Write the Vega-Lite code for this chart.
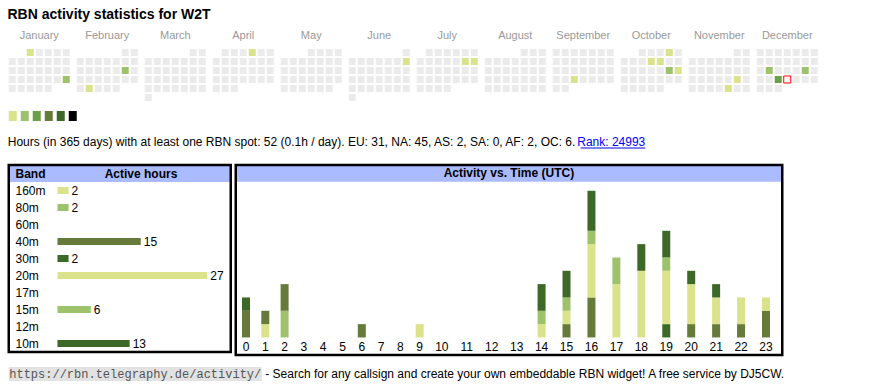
{
"$schema": "https://vega.github.io/schema/vega-lite/v6.json",
"background": "#ffffff",
"padding": {"left": 6.75, "top": 8, "right": 4, "bottom": 4},
"title": {"text": "RBN activity statistics for W2T", "anchor": "start", "fontSize": 14, "fontWeight": "bold", "font": "Liberation Sans", "color": "#000000", "offset": 8},
"config": {
  "view": {"stroke": null},
  "font": "Liberation Sans",
  "style": {"cell": {"strokeForeground": true}}
},
"resolve": {"scale": {"color": "independent", "fill": "independent"}},
"spacing": 10,
"datasets": {
"cal": [
{"m":1,"w":0,"d":2,"v":1},{"m":1,"w":0,"d":3,"v":0},{"m":1,"w":0,"d":4,"v":0},{"m":1,"w":0,"d":5,"v":0},{"m":1,"w":0,"d":6,"v":0},
{"m":1,"w":1,"d":0,"v":0},{"m":1,"w":1,"d":1,"v":0},{"m":1,"w":1,"d":2,"v":0},{"m":1,"w":1,"d":3,"v":0},{"m":1,"w":1,"d":4,"v":0},{"m":1,"w":1,"d":5,"v":0},{"m":1,"w":1,"d":6,"v":0},
{"m":1,"w":2,"d":0,"v":0},{"m":1,"w":2,"d":1,"v":0},{"m":1,"w":2,"d":2,"v":0},{"m":1,"w":2,"d":3,"v":0},{"m":1,"w":2,"d":4,"v":0},{"m":1,"w":2,"d":5,"v":0},{"m":1,"w":2,"d":6,"v":0},
{"m":1,"w":3,"d":0,"v":0},{"m":1,"w":3,"d":1,"v":0},{"m":1,"w":3,"d":2,"v":0},{"m":1,"w":3,"d":3,"v":0},{"m":1,"w":3,"d":4,"v":0},{"m":1,"w":3,"d":5,"v":0},{"m":1,"w":3,"d":6,"v":2},
{"m":1,"w":4,"d":0,"v":0},{"m":1,"w":4,"d":1,"v":0},{"m":1,"w":4,"d":2,"v":0},{"m":1,"w":4,"d":3,"v":0},{"m":1,"w":4,"d":4,"v":0},
{"m":2,"w":0,"d":5,"v":0},{"m":2,"w":0,"d":6,"v":0},
{"m":2,"w":1,"d":0,"v":0},{"m":2,"w":1,"d":1,"v":0},{"m":2,"w":1,"d":2,"v":0},{"m":2,"w":1,"d":3,"v":0},{"m":2,"w":1,"d":4,"v":0},{"m":2,"w":1,"d":5,"v":0},{"m":2,"w":1,"d":6,"v":0},
{"m":2,"w":2,"d":0,"v":0},{"m":2,"w":2,"d":1,"v":0},{"m":2,"w":2,"d":2,"v":0},{"m":2,"w":2,"d":3,"v":0},{"m":2,"w":2,"d":4,"v":0},{"m":2,"w":2,"d":5,"v":2},{"m":2,"w":2,"d":6,"v":0},
{"m":2,"w":3,"d":0,"v":0},{"m":2,"w":3,"d":1,"v":0},{"m":2,"w":3,"d":2,"v":0},{"m":2,"w":3,"d":3,"v":0},{"m":2,"w":3,"d":4,"v":0},{"m":2,"w":3,"d":5,"v":0},{"m":2,"w":3,"d":6,"v":0},
{"m":2,"w":4,"d":0,"v":0},{"m":2,"w":4,"d":1,"v":1},{"m":2,"w":4,"d":2,"v":0},{"m":2,"w":4,"d":3,"v":0},{"m":2,"w":4,"d":4,"v":0},
{"m":3,"w":0,"d":5,"v":0},{"m":3,"w":0,"d":6,"v":0},
{"m":3,"w":1,"d":0,"v":0},{"m":3,"w":1,"d":1,"v":0},{"m":3,"w":1,"d":2,"v":0},{"m":3,"w":1,"d":3,"v":0},{"m":3,"w":1,"d":4,"v":0},{"m":3,"w":1,"d":5,"v":0},{"m":3,"w":1,"d":6,"v":0},
{"m":3,"w":2,"d":0,"v":0},{"m":3,"w":2,"d":1,"v":0},{"m":3,"w":2,"d":2,"v":0},{"m":3,"w":2,"d":3,"v":0},{"m":3,"w":2,"d":4,"v":0},{"m":3,"w":2,"d":5,"v":0},{"m":3,"w":2,"d":6,"v":0},
{"m":3,"w":3,"d":0,"v":0},{"m":3,"w":3,"d":1,"v":0},{"m":3,"w":3,"d":2,"v":0},{"m":3,"w":3,"d":3,"v":0},{"m":3,"w":3,"d":4,"v":0},{"m":3,"w":3,"d":5,"v":0},{"m":3,"w":3,"d":6,"v":0},
{"m":3,"w":4,"d":0,"v":0},{"m":3,"w":4,"d":1,"v":0},{"m":3,"w":4,"d":2,"v":0},{"m":3,"w":4,"d":3,"v":0},{"m":3,"w":4,"d":4,"v":0},{"m":3,"w":4,"d":5,"v":0},{"m":3,"w":4,"d":6,"v":0},
{"m":3,"w":5,"d":0,"v":0},
{"m":4,"w":0,"d":1,"v":0},{"m":4,"w":0,"d":2,"v":0},{"m":4,"w":0,"d":3,"v":0},{"m":4,"w":0,"d":4,"v":1},{"m":4,"w":0,"d":5,"v":0},{"m":4,"w":0,"d":6,"v":0},
{"m":4,"w":1,"d":0,"v":0},{"m":4,"w":1,"d":1,"v":0},{"m":4,"w":1,"d":2,"v":0},{"m":4,"w":1,"d":3,"v":0},{"m":4,"w":1,"d":4,"v":0},{"m":4,"w":1,"d":5,"v":0},{"m":4,"w":1,"d":6,"v":0},
{"m":4,"w":2,"d":0,"v":0},{"m":4,"w":2,"d":1,"v":0},{"m":4,"w":2,"d":2,"v":0},{"m":4,"w":2,"d":3,"v":0},{"m":4,"w":2,"d":4,"v":0},{"m":4,"w":2,"d":5,"v":0},{"m":4,"w":2,"d":6,"v":0},
{"m":4,"w":3,"d":0,"v":0},{"m":4,"w":3,"d":1,"v":0},{"m":4,"w":3,"d":2,"v":0},{"m":4,"w":3,"d":3,"v":0},{"m":4,"w":3,"d":4,"v":0},{"m":4,"w":3,"d":5,"v":0},{"m":4,"w":3,"d":6,"v":0},
{"m":4,"w":4,"d":0,"v":0},{"m":4,"w":4,"d":1,"v":0},{"m":4,"w":4,"d":2,"v":0},
{"m":5,"w":0,"d":3,"v":0},{"m":5,"w":0,"d":4,"v":0},{"m":5,"w":0,"d":5,"v":0},{"m":5,"w":0,"d":6,"v":0},
{"m":5,"w":1,"d":0,"v":0},{"m":5,"w":1,"d":1,"v":0},{"m":5,"w":1,"d":2,"v":0},{"m":5,"w":1,"d":3,"v":0},{"m":5,"w":1,"d":4,"v":0},{"m":5,"w":1,"d":5,"v":0},{"m":5,"w":1,"d":6,"v":0},
{"m":5,"w":2,"d":0,"v":0},{"m":5,"w":2,"d":1,"v":0},{"m":5,"w":2,"d":2,"v":0},{"m":5,"w":2,"d":3,"v":0},{"m":5,"w":2,"d":4,"v":0},{"m":5,"w":2,"d":5,"v":0},{"m":5,"w":2,"d":6,"v":0},
{"m":5,"w":3,"d":0,"v":0},{"m":5,"w":3,"d":1,"v":0},{"m":5,"w":3,"d":2,"v":0},{"m":5,"w":3,"d":3,"v":0},{"m":5,"w":3,"d":4,"v":0},{"m":5,"w":3,"d":5,"v":0},{"m":5,"w":3,"d":6,"v":0},
{"m":5,"w":4,"d":0,"v":0},{"m":5,"w":4,"d":1,"v":0},{"m":5,"w":4,"d":2,"v":0},{"m":5,"w":4,"d":3,"v":0},{"m":5,"w":4,"d":4,"v":0},{"m":5,"w":4,"d":5,"v":0},
{"m":6,"w":0,"d":6,"v":0},
{"m":6,"w":1,"d":0,"v":0},{"m":6,"w":1,"d":1,"v":0},{"m":6,"w":1,"d":2,"v":0},{"m":6,"w":1,"d":3,"v":0},{"m":6,"w":1,"d":4,"v":0},{"m":6,"w":1,"d":5,"v":0},{"m":6,"w":1,"d":6,"v":1},
{"m":6,"w":2,"d":0,"v":0},{"m":6,"w":2,"d":1,"v":0},{"m":6,"w":2,"d":2,"v":0},{"m":6,"w":2,"d":3,"v":0},{"m":6,"w":2,"d":4,"v":0},{"m":6,"w":2,"d":5,"v":0},{"m":6,"w":2,"d":6,"v":0},
{"m":6,"w":3,"d":0,"v":0},{"m":6,"w":3,"d":1,"v":0},{"m":6,"w":3,"d":2,"v":0},{"m":6,"w":3,"d":3,"v":0},{"m":6,"w":3,"d":4,"v":0},{"m":6,"w":3,"d":5,"v":0},{"m":6,"w":3,"d":6,"v":0},
{"m":6,"w":4,"d":0,"v":0},{"m":6,"w":4,"d":1,"v":0},{"m":6,"w":4,"d":2,"v":0},{"m":6,"w":4,"d":3,"v":0},{"m":6,"w":4,"d":4,"v":0},{"m":6,"w":4,"d":5,"v":0},{"m":6,"w":4,"d":6,"v":0},
{"m":6,"w":5,"d":0,"v":0},
{"m":7,"w":0,"d":1,"v":0},{"m":7,"w":0,"d":2,"v":0},{"m":7,"w":0,"d":3,"v":0},{"m":7,"w":0,"d":4,"v":0},{"m":7,"w":0,"d":5,"v":0},{"m":7,"w":0,"d":6,"v":0},
{"m":7,"w":1,"d":0,"v":0},{"m":7,"w":1,"d":1,"v":0},{"m":7,"w":1,"d":2,"v":0},{"m":7,"w":1,"d":3,"v":0},{"m":7,"w":1,"d":4,"v":0},{"m":7,"w":1,"d":5,"v":1},{"m":7,"w":1,"d":6,"v":1},
{"m":7,"w":2,"d":0,"v":0},{"m":7,"w":2,"d":1,"v":0},{"m":7,"w":2,"d":2,"v":0},{"m":7,"w":2,"d":3,"v":0},{"m":7,"w":2,"d":4,"v":0},{"m":7,"w":2,"d":5,"v":0},{"m":7,"w":2,"d":6,"v":0},
{"m":7,"w":3,"d":0,"v":0},{"m":7,"w":3,"d":1,"v":0},{"m":7,"w":3,"d":2,"v":0},{"m":7,"w":3,"d":3,"v":0},{"m":7,"w":3,"d":4,"v":0},{"m":7,"w":3,"d":5,"v":0},{"m":7,"w":3,"d":6,"v":0},
{"m":7,"w":4,"d":0,"v":0},{"m":7,"w":4,"d":1,"v":0},{"m":7,"w":4,"d":2,"v":0},{"m":7,"w":4,"d":3,"v":0},
{"m":8,"w":0,"d":4,"v":0},{"m":8,"w":0,"d":5,"v":0},{"m":8,"w":0,"d":6,"v":0},
{"m":8,"w":1,"d":0,"v":0},{"m":8,"w":1,"d":1,"v":0},{"m":8,"w":1,"d":2,"v":0},{"m":8,"w":1,"d":3,"v":0},{"m":8,"w":1,"d":4,"v":0},{"m":8,"w":1,"d":5,"v":0},{"m":8,"w":1,"d":6,"v":0},
{"m":8,"w":2,"d":0,"v":0},{"m":8,"w":2,"d":1,"v":0},{"m":8,"w":2,"d":2,"v":0},{"m":8,"w":2,"d":3,"v":0},{"m":8,"w":2,"d":4,"v":0},{"m":8,"w":2,"d":5,"v":0},{"m":8,"w":2,"d":6,"v":0},
{"m":8,"w":3,"d":0,"v":0},{"m":8,"w":3,"d":1,"v":0},{"m":8,"w":3,"d":2,"v":0},{"m":8,"w":3,"d":3,"v":0},{"m":8,"w":3,"d":4,"v":0},{"m":8,"w":3,"d":5,"v":0},{"m":8,"w":3,"d":6,"v":0},
{"m":8,"w":4,"d":0,"v":0},{"m":8,"w":4,"d":1,"v":0},{"m":8,"w":4,"d":2,"v":0},{"m":8,"w":4,"d":3,"v":0},{"m":8,"w":4,"d":4,"v":0},{"m":8,"w":4,"d":5,"v":0},{"m":8,"w":4,"d":6,"v":0},
{"m":9,"w":0,"d":0,"v":0},{"m":9,"w":0,"d":1,"v":0},{"m":9,"w":0,"d":2,"v":0},{"m":9,"w":0,"d":3,"v":0},{"m":9,"w":0,"d":4,"v":0},{"m":9,"w":0,"d":5,"v":0},{"m":9,"w":0,"d":6,"v":0},
{"m":9,"w":1,"d":0,"v":0},{"m":9,"w":1,"d":1,"v":0},{"m":9,"w":1,"d":2,"v":0},{"m":9,"w":1,"d":3,"v":0},{"m":9,"w":1,"d":4,"v":0},{"m":9,"w":1,"d":5,"v":0},{"m":9,"w":1,"d":6,"v":0},
{"m":9,"w":2,"d":0,"v":0},{"m":9,"w":2,"d":1,"v":0},{"m":9,"w":2,"d":2,"v":0},{"m":9,"w":2,"d":3,"v":0},{"m":9,"w":2,"d":4,"v":0},{"m":9,"w":2,"d":5,"v":0},{"m":9,"w":2,"d":6,"v":0},
{"m":9,"w":3,"d":0,"v":0},{"m":9,"w":3,"d":1,"v":0},{"m":9,"w":3,"d":2,"v":1},{"m":9,"w":3,"d":3,"v":0},{"m":9,"w":3,"d":4,"v":0},{"m":9,"w":3,"d":5,"v":0},{"m":9,"w":3,"d":6,"v":0},
{"m":9,"w":4,"d":0,"v":0},{"m":9,"w":4,"d":1,"v":0},
{"m":10,"w":0,"d":2,"v":0},{"m":10,"w":0,"d":3,"v":0},{"m":10,"w":0,"d":4,"v":0},{"m":10,"w":0,"d":5,"v":1},{"m":10,"w":0,"d":6,"v":0},
{"m":10,"w":1,"d":0,"v":0},{"m":10,"w":1,"d":1,"v":0},{"m":10,"w":1,"d":2,"v":0},{"m":10,"w":1,"d":3,"v":1},{"m":10,"w":1,"d":4,"v":1},{"m":10,"w":1,"d":5,"v":0},{"m":10,"w":1,"d":6,"v":0},
{"m":10,"w":2,"d":0,"v":0},{"m":10,"w":2,"d":1,"v":0},{"m":10,"w":2,"d":2,"v":0},{"m":10,"w":2,"d":3,"v":0},{"m":10,"w":2,"d":4,"v":0},{"m":10,"w":2,"d":5,"v":2},{"m":10,"w":2,"d":6,"v":1},
{"m":10,"w":3,"d":0,"v":0},{"m":10,"w":3,"d":1,"v":0},{"m":10,"w":3,"d":2,"v":0},{"m":10,"w":3,"d":3,"v":0},{"m":10,"w":3,"d":4,"v":0},{"m":10,"w":3,"d":5,"v":0},{"m":10,"w":3,"d":6,"v":0},
{"m":10,"w":4,"d":0,"v":0},{"m":10,"w":4,"d":1,"v":0},{"m":10,"w":4,"d":2,"v":0},{"m":10,"w":4,"d":3,"v":0},{"m":10,"w":4,"d":4,"v":0},
{"m":11,"w":0,"d":5,"v":0},{"m":11,"w":0,"d":6,"v":0},
{"m":11,"w":1,"d":0,"v":0},{"m":11,"w":1,"d":1,"v":0},{"m":11,"w":1,"d":2,"v":0},{"m":11,"w":1,"d":3,"v":0},{"m":11,"w":1,"d":4,"v":0},{"m":11,"w":1,"d":5,"v":0},{"m":11,"w":1,"d":6,"v":0},
{"m":11,"w":2,"d":0,"v":0},{"m":11,"w":2,"d":1,"v":0},{"m":11,"w":2,"d":2,"v":0},{"m":11,"w":2,"d":3,"v":0},{"m":11,"w":2,"d":4,"v":0},{"m":11,"w":2,"d":5,"v":0},{"m":11,"w":2,"d":6,"v":0},
{"m":11,"w":3,"d":0,"v":0},{"m":11,"w":3,"d":1,"v":0},{"m":11,"w":3,"d":2,"v":0},{"m":11,"w":3,"d":3,"v":0},{"m":11,"w":3,"d":4,"v":0},{"m":11,"w":3,"d":5,"v":1},{"m":11,"w":3,"d":6,"v":0},
{"m":11,"w":4,"d":0,"v":0},{"m":11,"w":4,"d":1,"v":0},{"m":11,"w":4,"d":2,"v":0},{"m":11,"w":4,"d":3,"v":0},{"m":11,"w":4,"d":4,"v":1},{"m":11,"w":4,"d":5,"v":0},{"m":11,"w":4,"d":6,"v":0},
{"m":12,"w":0,"d":0,"v":0},{"m":12,"w":0,"d":1,"v":0},{"m":12,"w":0,"d":2,"v":0},{"m":12,"w":0,"d":3,"v":0},{"m":12,"w":0,"d":4,"v":0},{"m":12,"w":0,"d":5,"v":0},{"m":12,"w":0,"d":6,"v":0},
{"m":12,"w":1,"d":0,"v":0},{"m":12,"w":1,"d":1,"v":0},{"m":12,"w":1,"d":2,"v":0},{"m":12,"w":1,"d":3,"v":0},{"m":12,"w":1,"d":4,"v":0},{"m":12,"w":1,"d":5,"v":0},{"m":12,"w":1,"d":6,"v":0},
{"m":12,"w":2,"d":0,"v":0},{"m":12,"w":2,"d":1,"v":2},{"m":12,"w":2,"d":2,"v":0},{"m":12,"w":2,"d":3,"v":0},{"m":12,"w":2,"d":4,"v":0},{"m":12,"w":2,"d":5,"v":2},{"m":12,"w":2,"d":6,"v":0},
{"m":12,"w":3,"d":0,"v":0},{"m":12,"w":3,"d":1,"v":0},{"m":12,"w":3,"d":2,"v":3},{"m":12,"w":3,"d":3,"v":0,"t":1},{"m":12,"w":3,"d":4,"v":0},{"m":12,"w":3,"d":5,"v":0},{"m":12,"w":3,"d":6,"v":0},
{"m":12,"w":4,"d":0,"v":0},{"m":12,"w":4,"d":1,"v":0},{"m":12,"w":4,"d":2,"v":0}
],
"levels": [{"l":1},{"l":2},{"l":3},{"l":4},{"l":5},{"l":6}],
"bands": [
{"b":"160m","wl":160,"h":2},{"b":"80m","wl":80,"h":2},{"b":"60m","wl":60,"h":0},{"b":"40m","wl":40,"h":15},{"b":"30m","wl":30,"h":2},
{"b":"20m","wl":20,"h":27},{"b":"17m","wl":17,"h":0},{"b":"15m","wl":15,"h":6},{"b":"12m","wl":12,"h":0},{"b":"10m","wl":10,"h":13}
],
"act": [
{"hr":0,"wl":40,"n":2},{"hr":0,"wl":30,"n":1},
{"hr":1,"wl":160,"n":1},{"hr":1,"wl":40,"n":1},
{"hr":2,"wl":80,"n":2},{"hr":2,"wl":40,"n":2},
{"hr":6,"wl":40,"n":1},
{"hr":9,"wl":160,"n":1},
{"hr":14,"wl":20,"n":1},{"hr":14,"wl":15,"n":1},{"hr":14,"wl":10,"n":2},
{"hr":15,"wl":40,"n":1},{"hr":15,"wl":20,"n":1},{"hr":15,"wl":15,"n":1},{"hr":15,"wl":10,"n":2},
{"hr":16,"wl":40,"n":3},{"hr":16,"wl":20,"n":4},{"hr":16,"wl":15,"n":1},{"hr":16,"wl":10,"n":3},
{"hr":17,"wl":20,"n":4},{"hr":17,"wl":15,"n":2},
{"hr":18,"wl":20,"n":5},{"hr":18,"wl":10,"n":2},
{"hr":19,"wl":30,"n":1},{"hr":19,"wl":20,"n":4},{"hr":19,"wl":15,"n":1},{"hr":19,"wl":10,"n":2},
{"hr":20,"wl":40,"n":1},{"hr":20,"wl":20,"n":3},{"hr":20,"wl":10,"n":1},
{"hr":21,"wl":40,"n":1},{"hr":21,"wl":20,"n":2},{"hr":21,"wl":10,"n":1},
{"hr":22,"wl":40,"n":1},{"hr":22,"wl":20,"n":2},
{"hr":23,"wl":40,"n":2},{"hr":23,"wl":20,"n":1}
],
"hours": [{"hr":0},{"hr":1},{"hr":2},{"hr":3},{"hr":4},{"hr":5},{"hr":6},{"hr":7},{"hr":8},{"hr":9},{"hr":10},{"hr":11},{"hr":12},{"hr":13},{"hr":14},{"hr":15},{"hr":16},{"hr":17},{"hr":18},{"hr":19},{"hr":20},{"hr":21},{"hr":22},{"hr":23}]
},
"vconcat": [
{
  "data": {"name": "cal"},
  "facet": {"column": {"field": "m", "type": "ordinal", "title": null,
    "header": {"title": null, "labelExpr": "['January','February','March','April','May','June','July','August','September','October','November','December'][datum.value - 1]", "labelFontSize": 11, "labelColor": "#999999", "labelFont": "Liberation Sans", "labelPadding": 8}}},
  "spacing": 7,
  "spec": {
    "width": 61, "height": 52,
    "mark": {"type": "rect", "strokeWidth": 1},
    "encoding": {
      "x": {"field": "d", "type": "ordinal", "scale": {"domain": [0,1,2,3,4,5,6], "paddingInner": 0.2222, "paddingOuter": 0}, "axis": null},
      "y": {"field": "w", "type": "ordinal", "scale": {"domain": [0,1,2,3,4,5], "paddingInner": 0.2222, "paddingOuter": 0}, "axis": null},
      "fill": {"field": "v", "type": "ordinal", "condition": {"test": "datum.t", "value": "#ffffff"},
        "scale": {"domain": [0,1,2,3,4,5], "range": ["#ebebeb","#dbe28c","#9ec26b","#6b9f45","#667a3a","#3c6828"]}, "legend": null},
      "stroke": {"condition": {"test": "datum.t", "value": "#ff0000"}, "value": null}
    }
  }
},
{
  "data": {"name": "levels"},
  "width": 68, "height": 10,
  "mark": {"type": "rect"},
  "encoding": {
    "x": {"field": "l", "type": "ordinal", "scale": {"paddingInner": 0.3333, "paddingOuter": 0}, "axis": null},
    "color": {"field": "l", "type": "ordinal", "scale": {"domain": [1,2,3,4,5,6], "range": ["#dbe28c","#9ec26b","#6b9f45","#667a3a","#3c6828","#000000"]}, "legend": null}
  }
},
{
  "spacing": 0,
  "hconcat": [
    {
      "data": {"values": [{"t": "Hours (in 365 days) with at least one RBN spot: 52 (0.1h / day). EU: 31, NA: 45, AS: 2, SA: 0, AF: 2, OC: 6."}]},
      "width": 1, "height": 22,
      "mark": {"type": "text", "align": "left", "baseline": "middle", "fontSize": 12, "color": "#000000", "dx": -1.5},
      "encoding": {"text": {"field": "t"}}
    },
    {
      "data": {"values": [{"t": "Rank: 24993"}]},
      "width": 68, "height": 22,
      "layer": [
        {"mark": {"type": "text", "align": "center", "baseline": "middle", "fontSize": 12, "color": "#0000ee", "dx": -3.5}, "encoding": {"text": {"field": "t"}}},
        {"mark": {"type": "rule", "color": "#0000ee", "strokeWidth": 1, "yOffset": -5, "xOffset": -3.5, "x2Offset": -3.5}, "encoding": {"y": {"value": "height"}}}
      ]
    }
  ]
},
{
  "spacing": 1,
  "hconcat": [
    {
      "width": 222, "height": 187,
      "view": {"stroke": "#000000", "strokeWidth": 2.5},
      "data": {"name": "bands"},
      "layer": [
        {
          "data": {"values": [{"b": "hdr"}]},
          "mark": {"type": "rect", "color": "#aabbff"},
          "encoding": {
            "y": {"field": "b", "type": "nominal", "scale": {"domain": ["hdr","160m","80m","60m","40m","30m","20m","17m","15m","12m","10m"], "paddingInner": 0, "paddingOuter": 0}, "axis": null},
            "x": {"datum": -8.78, "type": "quantitative", "scale": {"domain": [-8.78, 31.22], "nice": false, "zero": false, "padding": 0}, "axis": null},
            "x2": {"datum": 31.22}
          }
        },
        {
          "data": {"values": [{"b": "hdr"}]},
          "mark": {"type": "text", "text": "Band", "align": "left", "baseline": "middle", "fontSize": 12, "fontWeight": "bold", "color": "#000000"},
          "encoding": {"y": {"field": "b", "type": "nominal"}, "x": {"datum": -7.56, "type": "quantitative"}}
        },
        {
          "data": {"values": [{"b": "hdr"}]},
          "mark": {"type": "text", "text": "Active hours", "align": "center", "baseline": "middle", "fontSize": 12, "fontWeight": "bold", "color": "#000000"},
          "encoding": {"y": {"field": "b", "type": "nominal"}, "x": {"datum": 15.05, "type": "quantitative"}}
        },
        {
          "mark": {"type": "text", "align": "left", "baseline": "middle", "fontSize": 12, "color": "#000000"},
          "encoding": {"y": {"field": "b", "type": "nominal"}, "x": {"datum": -7.56, "type": "quantitative"}, "text": {"field": "b"}}
        },
        {
          "transform": [{"filter": "datum.h > 0"}],
          "mark": {"type": "bar", "height": 7},
          "encoding": {
            "y": {"field": "b", "type": "nominal"},
            "x": {"field": "h", "type": "quantitative"},
            "color": {"field": "wl", "type": "ordinal", "scale": {"domain": [160,80,60,40,30,20,17,15,12,10], "range": ["#dbe28c","#9ec26b","#6b9f45","#667a3a","#3c6828","#dbe28c","#9ec26b","#9ec26b","#667a3a","#3c6828"]}, "legend": null}
          }
        },
        {
          "transform": [{"filter": "datum.h > 0"}],
          "mark": {"type": "text", "align": "left", "baseline": "middle", "dx": 3, "fontSize": 12, "color": "#000000"},
          "encoding": {"y": {"field": "b", "type": "nominal"}, "x": {"field": "h", "type": "quantitative"}, "text": {"field": "h"}}
        }
      ]
    },
    {
      "width": 546.5, "height": 190,
      "view": {"stroke": "#000000", "strokeWidth": 2.5},
      "layer": [
        {
          "data": {"values": [{}]},
          "mark": {"type": "rect", "color": "#aabbff"},
          "encoding": {
            "x": {"datum": -0.53, "type": "quantitative", "scale": {"type": "linear", "domain": [0, 9.5, 23], "range": [10.25, 193.6, 530.25], "nice": false, "zero": false, "padding": 0}, "axis": null},
            "x2": {"datum": 23.65},
            "y": {"datum": 12.934, "type": "quantitative", "scale": {"domain": [-1.316, 12.934], "nice": false, "zero": false}, "axis": null},
            "y2": {"datum": 11.68}
          }
        },
        {
          "data": {"values": [{}]},
          "mark": {"type": "text", "text": "Activity vs. Time (UTC)", "align": "center", "baseline": "middle", "fontSize": 12, "fontWeight": "bold", "color": "#000000"},
          "encoding": {"x": {"datum": 12.69, "type": "quantitative"}, "y": {"datum": 12.3, "type": "quantitative"}}
        },
        {
          "data": {"name": "act"},
          "mark": {"type": "bar", "width": 8},
          "encoding": {
            "x": {"field": "hr", "type": "quantitative"},
            "y": {"field": "n", "type": "quantitative", "stack": "zero"},
            "color": {"field": "wl", "type": "ordinal", "scale": {"domain": [160,80,60,40,30,20,17,15,12,10], "range": ["#dbe28c","#9ec26b","#6b9f45","#667a3a","#3c6828","#dbe28c","#9ec26b","#9ec26b","#667a3a","#3c6828"]}, "legend": null},
            "order": {"field": "wl", "sort": "descending"}
          }
        },
        {
          "data": {"name": "hours"},
          "mark": {"type": "text", "align": "center", "baseline": "middle", "fontSize": 12, "color": "#000000"},
          "encoding": {"x": {"field": "hr", "type": "quantitative"}, "y": {"datum": -0.7, "type": "quantitative"}, "text": {"field": "hr"}}
        }
      ]
    }
  ]
},
{
  "spacing": 3,
  "hconcat": [
    {
      "data": {"values": [{"t": "https://rbn.telegraphy.de/activity/"}]},
      "width": 253, "height": 14,
      "view": {"fill": "#e2e2e2", "stroke": null},
      "mark": {"type": "text", "align": "center", "baseline": "middle", "font": "Liberation Mono", "fontSize": 12, "color": "#555555"},
      "encoding": {"text": {"field": "t"}}
    },
    {
      "data": {"values": [{"t": "- Search for any callsign and create your own embeddable RBN widget! A free service by DJ5CW."}]},
      "width": 1, "height": 14,
      "mark": {"type": "text", "align": "left", "baseline": "middle", "fontSize": 12, "color": "#000000"},
      "encoding": {"text": {"field": "t"}}
    }
  ]
}
]
}
